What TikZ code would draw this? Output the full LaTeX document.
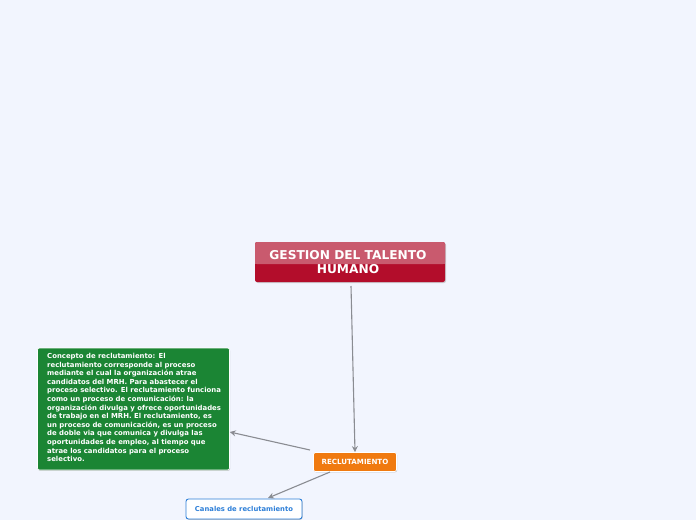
\documentclass[tikz,border=0pt]{standalone}
\usepackage{fontspec}
\setmainfont{DejaVu Sans}
\usetikzlibrary{arrows.meta,shadows}
\definecolor{bgc}{HTML}{F2F5FE}
\definecolor{redtop}{HTML}{C95A6E}
\definecolor{redbot}{HTML}{B30D2B}
\definecolor{orng}{HTML}{F07A10}
\definecolor{grn}{HTML}{1B8534}
\definecolor{blu}{HTML}{2D7FD8}
\definecolor{conn}{HTML}{8A8C92}
\tikzset{
  link/.style={draw=conn, line width=1.1pt, -{Stealth[length=6pt,width=6pt]}},
  boxshadow/.style={drop shadow={shadow xshift=0.6pt,shadow yshift=-0.8pt,opacity=0.35,fill=black!60}},
}
\begin{document}
\begin{tikzpicture}[x=1pt,y=-1pt]
\fill[bgc] (0,0) rectangle (696,520);
\useasboundingbox (0,0) rectangle (696,520);
% main node
\fill[black!35,opacity=0.5,rounded corners=2pt] (256,243) rectangle (446,283);
\fill[redbot,rounded corners=2pt] (255,242) rectangle (445,282);
\fill[redtop,rounded corners=2pt] (255,242) rectangle (445,264);
\fill[redtop] (255,258) rectangle (445,264);
\node[font=\bfseries\fontsize{12.2}{14.5}\selectfont, text=white, align=center, inner sep=0pt, minimum width=190pt, minimum height=40pt] (main) at (348,262) {GESTION DEL TALENTO\\HUMANO};
% reclutamiento
\node[boxshadow, fill=orng, draw=white, line width=0.8pt, rounded corners=2pt, minimum width=83pt, minimum height=19pt, inner sep=0pt, text=white, font=\bfseries\fontsize{7.1}{8}\selectfont] (rec) at (355,462) {RECLUTAMIENTO};
% green
\node[boxshadow, fill=grn, draw=white, line width=0.6pt, rounded corners=2pt, minimum width=192pt, minimum height=122pt, inner sep=0pt] (conc) at (133.5,409) {};
\node[anchor=north west, inner sep=0pt, text=white, align=left, font=\bfseries\fontsize{6.9}{8.6}\selectfont] (conct) at (47,353) {Concepto de reclutamiento: El\\reclutamiento corresponde al proceso\\mediante el cual la organización atrae\\candidatos del MRH. Para abastecer el\\proceso selectivo. El reclutamiento funciona\\como un proceso de comunicación: la\\organización divulga y ofrece oportunidades\\de trabajo en el MRH. El reclutamiento, es\\un proceso de comunicación, es un proceso\\de doble via que comunica y divulga las\\oportunidades de empleo, al tiempo que\\atrae los candidatos para el proceso\\selectivo.};
% canales
\node[boxshadow, fill=white, draw=blu, line width=0.9pt, rounded corners=2.5pt, minimum width=116pt, minimum height=20pt, inner sep=0pt, text=blu, font=\bfseries\fontsize{6.8}{8}\selectfont] (can) at (244,509) {Canales de reclutamiento};
% connectors
\coordinate (m1) at (351,286);
\draw[link] (m1) -- (rec.north);
\coordinate (r1) at (310,450);
\draw[link] (r1) -- (conc.east |- 0,432);
\coordinate (r2) at (330,472);
\draw[link] (r2) -- (268,498);
\end{tikzpicture}
\end{document}
